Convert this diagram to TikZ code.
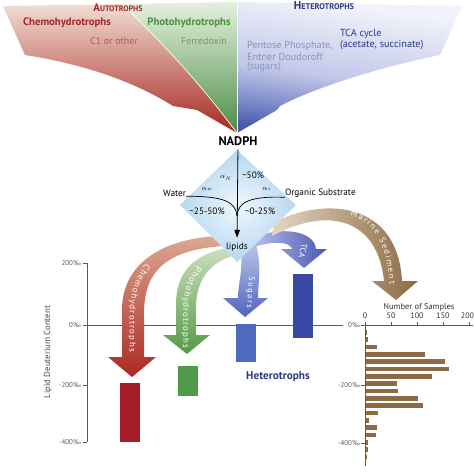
\documentclass[tikz,border=0pt]{standalone}
\usepackage{fontspec}
\setmainfont{PT Sans}
\usetikzlibrary{arrows.meta,decorations.text}
\newcommand{\myfs}[1]{\fontsize{#1}{#1}\selectfont}
\definecolor{autored}{HTML}{A3262A}
\definecolor{photogreen}{HTML}{4B8E3C}
\definecolor{heteroblue}{HTML}{2E3A80}
\definecolor{cone}{HTML}{B85A4C}
\definecolor{ferre}{HTML}{6E9E5E}
\definecolor{pentose}{HTML}{8A93BD}
\definecolor{chemL}{HTML}{F2DDD3}
\definecolor{chemD}{HTML}{A42820}
\definecolor{phoL}{HTML}{E6F0DF}
\definecolor{phoD}{HTML}{4A8E46}
\definecolor{hetL}{HTML}{F2F3FA}
\definecolor{hetM}{HTML}{C2C8EA}
\definecolor{hetQ}{HTML}{7A88C8}
\definecolor{hetD}{HTML}{4A5AAA}
\pgfdeclareverticalshading{hetshade}{100bp}{color(0bp)=(hetD); color(25bp)=(hetD); color(33bp)=(hetQ); color(46bp)=(hetM); color(72bp)=(hetL); color(100bp)=(hetL)}
\definecolor{achemL}{HTML}{DBA890}
\definecolor{achemD}{HTML}{AC2822}
\definecolor{aphoL}{HTML}{CADFBE}
\definecolor{aphoD}{HTML}{569A46}
\definecolor{asugL}{HTML}{BAC6EC}
\definecolor{asugD}{HTML}{5064B8}
\definecolor{atcaL}{HTML}{BAC2EA}
\definecolor{atcaD}{HTML}{4858B0}
\definecolor{amarL}{HTML}{E4D6C4}
\definecolor{amarD}{HTML}{8C6A42}
\definecolor{diaIn}{HTML}{F0F7FC}
\definecolor{diaOut}{HTML}{B6D8F0}
\definecolor{chembar}{HTML}{A51C2A}
\definecolor{photobar}{HTML}{4F9A48}
\definecolor{sugbar}{HTML}{4D6CC0}
\definecolor{tcabar}{HTML}{3A48A8}
\definecolor{brownbar}{HTML}{8C6A43}
\definecolor{axisgray}{HTML}{5A5A5A}
\begin{document}
\begin{tikzpicture}[x=1bp,y=-1bp,
  every node/.style={inner sep=0pt, outer sep=0pt},
  ticklbl/.style={font=\myfs{7}, text=axisgray},
  numlbl/.style={font=\myfs{8}, text=black!80},
  dialbl/.style={font=\myfs{9.3}},
  axisline/.style={draw=axisgray, line width=0.9bp},
  arrowtext/.style={decorate, decoration={text along path, text align=fit to path}}]
\useasboundingbox (0,0) rectangle (474,474);
\fill[white] (0,0) rectangle (474,474);

% ---------- top funnel ----------
\shade[top color=chemL, bottom color=chemD]
  (3,6) -- (122,4) .. controls (170,50) and (205,90) .. (237,133)
  -- (197,110) -- (173,106) .. controls (140,85) and (90,65) .. (25,55) -- cycle;
\shade[top color=phoL, bottom color=phoD]
  (122,4) -- (237,2) -- (237,133) .. controls (205,90) and (170,50) .. (122,4) -- cycle;
\shade[shading=hetshade, shading angle=-8]
  (237,2) -- (462,6) -- (440,55) .. controls (390,65) and (320,85) .. (280,106)
  -- (277,110) -- (237,133) -- cycle;
\draw[white!85!yellow, line width=0.7bp] (122,4) .. controls (170,50) and (205,90) .. (237,133);
\draw[white, line width=0.8bp] (237,2) -- (237,133);

\node[text=autored, font=\bfseries] (autotrophs) at (118,8) {{\myfs{11}A}{\myfs{8}UTOTROPHS}};
\node[text=heteroblue, font=\bfseries] (heterotrophs) at (324,6) {{\myfs{11.5}H}{\myfs{8.3}ETEROTROPHS}};
\node[text=autored, font=\bfseries\myfs{10.8}] (chemo) at (67,23) {Chemohydrotrophs};
\node[text=photogreen, font=\bfseries\myfs{10.8}] (photo) at (189,23) {Photohydrotrophs};
\node[text=cone, font=\myfs{10}] (c1) at (114,41) {C1 or other};
\node[text=ferre, font=\myfs{10}] (ferredoxin) at (204,41) {Ferredoxin};
\node[text=heteroblue, font=\myfs{10.3}, anchor=west] (tca) at (340,34) {TCA cycle};
\node[text=heteroblue, font=\myfs{10.3}, anchor=west] (acetate) at (340,44.5) {(acetate, succinate)};
\node[text=pentose, font=\myfs{10.3}, anchor=west] (pentose) at (247,46) {Pentose Phosphate,};
\node[text=pentose, font=\myfs{10.3}, anchor=west] (entner) at (247,56.5) {Entner Doudoroff};
\node[text=pentose, font=\myfs{10.3}, anchor=west] (sugarsT) at (247,67) {(sugars)};
\node[font=\bfseries\myfs{12.5}] (nadph) at (238,141) {NADPH};

% ---------- axes ----------
\draw[axisline] (87,325) -- (343,325);
\draw[axisline] (361,325) -- (473,325);
\draw[axisline] (87,263) -- (87,442);
\foreach \yy in {263,325,385,442} { \draw[axisline] (83,\yy) -- (87,\yy); }
\node[ticklbl, anchor=east] (l200) at (81,263) {200‰};
\node[ticklbl, anchor=east] (l0) at (81,325) {0‰};
\node[ticklbl, anchor=east] (lm200) at (81,385) {-200‰};
\node[ticklbl, anchor=east] (lm400) at (81,442) {-400‰};
\node[rotate=90, font=\myfs{8.8}, text=axisgray!80!black] (ylabel) at (48,352) {Lipid Deuterium Content};

% ---------- curved arrows ----------
\shade[top color=achemL, bottom color=achemD]
  (220,236) .. controls (165,238) and (122,262) .. (122,310) -- (122,357) -- (108,357)
  -- (132,377) -- (156,357) -- (144,357) -- (144,318)
  .. controls (143,278) and (158,250) .. (224,246) -- cycle;
\path[arrowtext, decoration={text={|\color{white}\myfs{9}|Chemohydrotrophs}}]
  (146,264) .. controls (136,277) and (129.5,292) .. (129.5,315) -- (129.5,352);

\shade[top color=aphoL, bottom color=aphoD]
  (226,248) .. controls (190,256) and (176,275) .. (176,305) -- (176,335) -- (163,335)
  -- (187,354) -- (210,335) -- (196,335) -- (196,308)
  .. controls (196,285) and (205,265) .. (232,256) -- cycle;
\path[arrowtext, decoration={text={|\color{white}\myfs{9}|Photohydrotrophs}}]
  (197,266) .. controls (188,279) and (183,292) .. (183,310) -- (183,348);

\shade[top color=asugL, bottom color=asugD]
  (240,246) .. controls (244,270) and (238,282) .. (238,298) -- (223,298) -- (245,317)
  -- (268,298) -- (258,298) .. controls (258,282) and (262,268) .. (256,244) -- cycle;
\path[arrowtext, decoration={text={|\color{white}\myfs{8.5}|Sugars}}]
  (249,276) -- (247,308);

\shade[left color=atcaL, right color=atcaD]
  (252,238) .. controls (280,226) and (314,230) .. (316,249) -- (327,249) -- (304,268)
  -- (281,249) -- (292,249) .. controls (290,242) and (275,240) .. (250,248) -- cycle;
\node[rotate=-100, text=white, font=\myfs{8.5}] (tcaarrow) at (303,251) {TCA};

\shade[left color=amarL, right color=amarD]
  (274,222) .. controls (330,195) and (398,205) .. (402,281) -- (418,281) -- (396,300)
  -- (372,281) -- (384,281) .. controls (378,220) and (330,205) .. (272,236) -- cycle;
\path[arrowtext, decoration={text={|\color{white}\myfs{8.5}|Marine Sediment}}]
  (350,215.5) .. controls (372,221) and (387,242) .. (389.5,284);

% ---------- diamond ----------
\shade[inner color=diaIn, outer color=diaOut]
  (237,150) -- (296,205) -- (237,262) -- (180,205) -- cycle;
\node[dialbl] (lipids) at (237,247) {lipids};
\draw[line width=0.8bp, -{Triangle[length=8bp,width=5.5bp]}, shorten <=4bp, shorten >=5bp]
  (nadph.south) -- (lipids.north);
\coordinate (J) at (237,216);
\node[dialbl, anchor=east] (water) at (186,193) {Water};
\node[dialbl, anchor=west] (organic) at (285,193) {Organic Substrate};
\draw[line width=0.7bp] (water.south east) .. controls (224,196) and (236,202) .. (J);
\draw[line width=0.7bp] (organic.south west) .. controls (250,196) and (238,202) .. (J);
\node[font=\myfs{7.5}] (aN) at (226,178) {$\alpha_N$};
\node[dialbl] (p50) at (253,175) {\textasciitilde50\%};
\node[font=\myfs{7.5}] (aw) at (207,189) {$\alpha_w$};
\node[font=\myfs{7.5}] (as) at (267,189) {$\alpha_s$};
\node[dialbl] (p2550) at (207,211) {\textasciitilde25-50\%};
\node[dialbl] (p025) at (260,211) {\textasciitilde0-25\%};

% ---------- bars ----------
\fill[chembar] (120,383) rectangle (140,442);
\fill[photobar] (178,366) rectangle (198,396);
\fill[sugbar] (236,324) rectangle (256,362);
\fill[tcabar] (293,274) rectangle (313,338);
\node[text=heteroblue, font=\bfseries\myfs{11.3}] (hetbottom) at (278,377) {Heterotrophs};

% ---------- histogram ----------
\foreach \w [count=\i from 0] in {1.7,3.3,11.7,60,80,84,67.3,31.7,32.7,52.7,57.7,13.3,4.3,11.7,10.7,2.7,3.3,1.7} {
  \fill[brownbar] (365,{330+7.33*\i}) rectangle ({365+\w},{334.6+7.33*\i});
}
\draw[axisline] (365,325) -- (365,466);
\foreach \yy in {385,443} { \draw[axisline] (361,\yy) -- (365,\yy); }
\foreach \xx in {365,391,417,443,469} { \draw[axisline] (\xx,325) -- (\xx,322); }
\node[ticklbl, anchor=east] (h0) at (360,325) {0‰};
\node[ticklbl, anchor=east] (hm200) at (360,385) {-200‰};
\node[ticklbl, anchor=east] (hm400) at (360,443) {-400‰};
\node[numlbl] (n0) at (365,316) {0};
\node[numlbl] (n50) at (391,316) {50};
\node[numlbl] (n100) at (417,316) {100};
\node[numlbl] (n150) at (443,316) {150};
\node[numlbl, anchor=east] (n200) at (474,316) {200};
\node[font=\myfs{8.5}, text=black!80] (nsamp) at (419,307) {Number of Samples};
\end{tikzpicture}
\end{document}
